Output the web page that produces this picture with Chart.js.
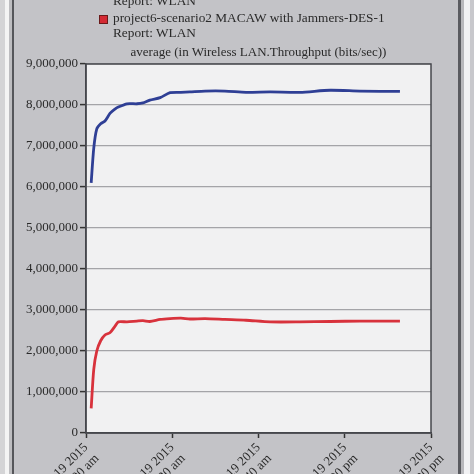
<!DOCTYPE html>
<html>
<head>
<meta charset="utf-8">
<script src="https://cdn.jsdelivr.net/npm/chart.js@4.4.1/dist/chart.umd.min.js"></script>
<style>
  html, body { margin: 0; padding: 0; }
  body { width: 474px; height: 474px; overflow: hidden; position: relative; background: #c3c3c7; font-family: "Liberation Serif", serif; }
  #wrap { position: absolute; left: 0; top: 0; width: 474px; height: 474px; }
  .frame { position: absolute; top: 0; height: 474px; }
  .txt { position: absolute; color: #2a2a2a; white-space: nowrap; font-size: 13.3px; line-height: 14px; }
  .sq { position: absolute; left: 99px; top: 15px; width: 7px; height: 7px; background: #d42a34; border: 1px solid #6a1a1a; }
</style>
</head>
<body>
<div id="wrap"><canvas id="myChart" width="474" height="474"></canvas></div>

<!-- window frame -->
<div class="frame" style="left:0;width:5px;background:#d4d4d6"></div>
<div class="frame" style="left:5px;width:4px;background:#f4f4f4"></div>
<div class="frame" style="left:9px;width:3px;background:#bdbdc0"></div>
<div class="frame" style="left:12px;width:2px;background:#55565a"></div>
<div class="frame" style="left:458px;width:3px;background:#5a5b60"></div>
<div class="frame" style="left:461px;width:3px;background:#b8b8bc"></div>
<div class="frame" style="left:464px;width:6px;background:#f2f2f4"></div>
<div class="frame" style="left:470px;width:4px;background:#c8c8cc"></div>

<!-- legend -->
<div class="txt" style="left:113px;top:-6px">Report: WLAN</div>
<div class="sq"></div>
<div class="txt" style="left:113px;top:11px">project6-scenario2 MACAW with Jammers-DES-1</div>
<div class="txt" style="left:113px;top:26px">Report: WLAN</div>
<div class="txt" id="title" style="left:86px;width:345px;text-align:center;top:45px;font-size:13px">average (in Wireless LAN.Throughput (bits/sec))</div>

<script>
const ctx = document.getElementById('myChart');

// minutes from start of run
const times = [1.2, 1.8, 2.5, 3.4, 4.4, 5.6, 6.7, 7.5, 9.5, 11.8, 13.2, 14.8, 17.2, 19.5, 22, 24.1, 27.6, 32.2, 37.1, 42.7, 49.6, 56.6, 63.5, 72.8];
const blueValues = [6100000, 6950000, 7420000, 7540000, 7610000, 7800000, 7900000, 7950000, 8030000, 8030000, 8050000, 8120000, 8180000, 8300000, 8310000, 8320000, 8340000, 8340000, 8310000, 8320000, 8310000, 8360000, 8340000, 8330000];
const redValues = [600000, 1550000, 2000000, 2250000, 2390000, 2450000, 2600000, 2710000, 2710000, 2730000, 2740000, 2720000, 2770000, 2790000, 2800000, 2780000, 2790000, 2770000, 2750000, 2710000, 2710000, 2720000, 2730000, 2730000];
const xTickLabels = [
    ['Apr 19 2015', '11:00 am'],
    ['Apr 19 2015', '11:20 am'],
    ['Apr 19 2015', '11:40 am'],
    ['Apr 19 2015', '12:00 pm'],
    ['Apr 19 2015', '12:20 pm']
];
const yTicks = [0, 1000000, 2000000, 3000000, 4000000, 5000000, 6000000, 7000000, 8000000, 9000000];

function toPoints(vals) {
    return vals.map((v, i) => ({ x: times[i], y: v }));
}

// plot area fill + box
const plotBox = {
    id: 'plotBox',
    beforeDraw(chart) {
        const a = chart.chartArea;
        const c = chart.ctx;
        c.save();
        c.fillStyle = '#f1f1f2';
        c.fillRect(a.left, a.top, a.right - a.left, a.bottom - a.top);
        c.restore();
    },
    afterDraw(chart) {
        const a = chart.chartArea;
        const c = chart.ctx;
        c.save();
        c.strokeStyle = '#46474c';
        c.lineWidth = 1.5;
        c.strokeRect(a.left, a.top, a.right - a.left, a.bottom - a.top);
        c.restore();
    }
};

Chart.defaults.font.family = '"Liberation Serif", serif';
Chart.defaults.color = '#2a2a2a';

new Chart(ctx, {
    type: 'line',
    data: {
        datasets: [{
            label: 'blue',
            data: toPoints(blueValues),
            borderColor: '#2f3f95',
            borderWidth: 2.8,
            pointRadius: 0,
            tension: 0.25
        }, {
            label: 'red',
            data: toPoints(redValues),
            borderColor: '#d8323c',
            borderWidth: 2.8,
            pointRadius: 0,
            tension: 0.25
        }]
    },
    options: {
        responsive: false,
        animation: false,
        layout: { padding: { top: 64, right: 43, left: 0, bottom: 0 } },
        plugins: {
            legend: { display: false },
            tooltip: { enabled: false }
        },
        scales: {
            x: {
                type: 'linear',
                min: 0,
                max: 80,
                afterFit: (s) => { s.height = 41; },
                afterBuildTicks: (s) => { s.ticks = [0, 20, 40, 60, 80].map(v => ({ value: v })); },
                ticks: {
                    minRotation: 45,
                    maxRotation: 45,
                    padding: 2,
                    font: { size: 13 },
                    callback: (v, i) => xTickLabels[i]
                },
                grid: { drawOnChartArea: false, tickLength: 5, tickColor: '#333', tickWidth: 1.5 },
                border: { color: '#46474c', width: 1.5 }
            },
            y: {
                min: 0,
                max: 9000000,
                afterFit: (s) => { s.width = 86; },
                afterBuildTicks: (s) => { s.ticks = yTicks.map(v => ({ value: v })); },
                ticks: {
                    padding: 2,
                    font: { size: 13 },
                    callback: (v) => v.toLocaleString('en-US')
                },
                grid: { color: '#a4a4a8', lineWidth: 1.2, tickLength: 6, tickColor: '#333', tickWidth: 1.5 },
                border: { color: '#46474c', width: 1.5 }
            }
        }
    },
    plugins: [plotBox]
});
</script>
</body>
</html>
